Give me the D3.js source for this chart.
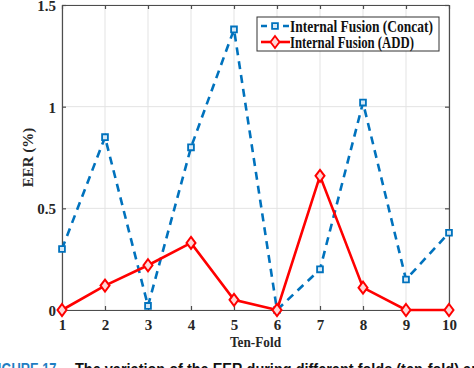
<!DOCTYPE html>
<html><head><meta charset="utf-8">
<script src="https://cdn.jsdelivr.net/npm/d3@7"></script>
<style>body{margin:0;background:#fff;overflow:hidden}svg{display:block}</style>
</head><body>
<script>
const folds = [1,2,3,4,5,6,7,8,9,10];
const concat = [0.30,0.85,0.02,0.80,1.38,0.00,0.20,1.02,0.15,0.38];
const add = [0.00,0.12,0.22,0.33,0.05,0.00,0.66,0.11,0.00,0.00];
const yTicks = [0,0.5,1,1.5];
const yTickLabels = ["0","0.5","1","1.5"];
const seriesNames = ["Internal Fusion (Concat)","Internal Fusion (ADD)"];

const W=474,H=368;
const m={l:62,r:449,t:5,b:310};
const svg=d3.select("body").append("svg").attr("width",W).attr("height",H);
const x=d3.scaleLinear().domain([1,10]).range([m.l,m.r]);
const y=d3.scaleLinear().domain([0,1.5]).range([m.b,m.t]);
const tf="'Liberation Serif','Times New Roman',serif";

// grid
const g=svg.append("g");
g.selectAll(".vx").data(folds).join("line").attr("x1",d=>x(d)).attr("x2",d=>x(d)).attr("y1",m.t).attr("y2",m.b).attr("stroke","#e3e3e3").attr("stroke-width",1);
g.selectAll(".hy").data(yTicks).join("line").attr("x1",m.l).attr("x2",m.r).attr("y1",d=>y(d)).attr("y2",d=>y(d)).attr("stroke","#e3e3e3").attr("stroke-width",1);

// axes (MATLAB style, inner ticks)
const axB=svg.append("g").attr("transform",`translate(0,${m.b})`).call(d3.axisBottom(x).tickValues(folds).tickFormat(d3.format("d")).tickSizeInner(-4).tickSizeOuter(0).tickPadding(9));
const axL=svg.append("g").attr("transform",`translate(${m.l},0)`).call(d3.axisLeft(y).tickValues(yTicks).tickFormat((d,i)=>yTickLabels[i]).tickSizeInner(-4).tickSizeOuter(0).tickPadding(6));
const axT=svg.append("g").attr("transform",`translate(0,${m.t})`).call(d3.axisTop(x).tickValues(folds).tickFormat("").tickSizeInner(-4).tickSizeOuter(0));
const axR=svg.append("g").attr("transform",`translate(${m.r},0)`).call(d3.axisRight(y).tickValues(yTicks).tickFormat("").tickSizeInner(-4).tickSizeOuter(0));
[axB,axL,axT,axR].forEach(a=>{a.selectAll("path,line").attr("stroke","#4d4d4d").attr("stroke-width",1.2);a.selectAll("text").attr("font-family",tf).attr("font-weight","bold").attr("font-size",15).attr("fill","#262626");});
axL.selectAll("text").attr("dy","0.36em");

// labels
svg.append("text").attr("x",230).attr("y",347).attr("font-family",tf).attr("font-weight","bold").attr("font-size",15).attr("fill","#262626").attr("textLength",51).attr("lengthAdjust","spacingAndGlyphs").text("Ten-Fold");
svg.append("text").attr("transform",`translate(33,${(m.t+m.b)/2}) rotate(-90)`).attr("text-anchor","middle").attr("font-family",tf).attr("font-weight","bold").attr("font-size",15).attr("fill","#262626").text("EER (%)");

const blue="#0072BD",red="#FF0000";
const line=d3.line().x((d,i)=>x(folds[i])).y(d=>y(d));
svg.append("path").datum(concat).attr("d",line).attr("fill","none").attr("stroke",blue).attr("stroke-width",2.6).attr("stroke-dasharray","8,6");
svg.append("path").datum(add).attr("d",line).attr("fill","none").attr("stroke",red).attr("stroke-width",2.6);

const sq=d3.symbol().type(d3.symbolSquare).size(34);
const dm="M0,-6L4.5,0L0,6L-4.5,0Z";
svg.selectAll(".sq").data(concat).join("path").attr("d",sq).attr("transform",(d,i)=>`translate(${x(folds[i])},${y(d)})`).attr("fill","#d6e8f5").attr("stroke",blue).attr("stroke-width",1.8);
svg.selectAll(".dm").data(add).join("path").attr("d",dm).attr("transform",(d,i)=>`translate(${x(folds[i])},${y(d)})`).attr("fill","#ffd6d6").attr("stroke",red).attr("stroke-width",2);

// legend
const lg=svg.append("g");
lg.append("rect").attr("x",257).attr("y",17).attr("width",182).attr("height",34).attr("fill","#fff").attr("stroke","#333").attr("stroke-width",1);
const rows=[{yy:26,c:blue,dash:"6,5",sym:sq(),f:"#d6e8f5"},{yy:42,c:red,dash:null,sym:dm,f:"#ffd6d6"}];
const tl=[143,124];
rows.forEach((r,i)=>{
  lg.append("line").attr("x1",261).attr("x2",290).attr("y1",r.yy).attr("y2",r.yy).attr("stroke",r.c).attr("stroke-width",2.6).attr("stroke-dasharray",r.dash);
  lg.append("path").attr("d",r.sym).attr("transform",`translate(275,${r.yy})`).attr("fill",r.f).attr("stroke",r.c).attr("stroke-width",1.8);
  lg.append("text").attr("x",290).attr("y",r.yy+5.5).attr("font-family",tf).attr("font-weight","bold").attr("font-size",16).attr("fill","#111").attr("textLength",tl[i]).attr("lengthAdjust","spacingAndGlyphs").text(seriesNames[i]);
});

// caption (clipped by window bottom)
const cf="'Liberation Sans',Arial,sans-serif";
svg.append("text").attr("x",-10).attr("y",375).attr("font-family",cf).attr("font-weight","bold").attr("font-size",16).attr("fill","#1f7ec2").attr("textLength",70).attr("lengthAdjust","spacingAndGlyphs").text("FIGURE 17.");
svg.append("text").attr("x",75).attr("y",375).attr("font-family",cf).attr("font-weight","bold").attr("font-size",16).attr("fill","#111").attr("textLength",405).attr("lengthAdjust","spacingAndGlyphs").text("The variation of the EER during different folds (ten-fold) an");
</script>
</body></html>
